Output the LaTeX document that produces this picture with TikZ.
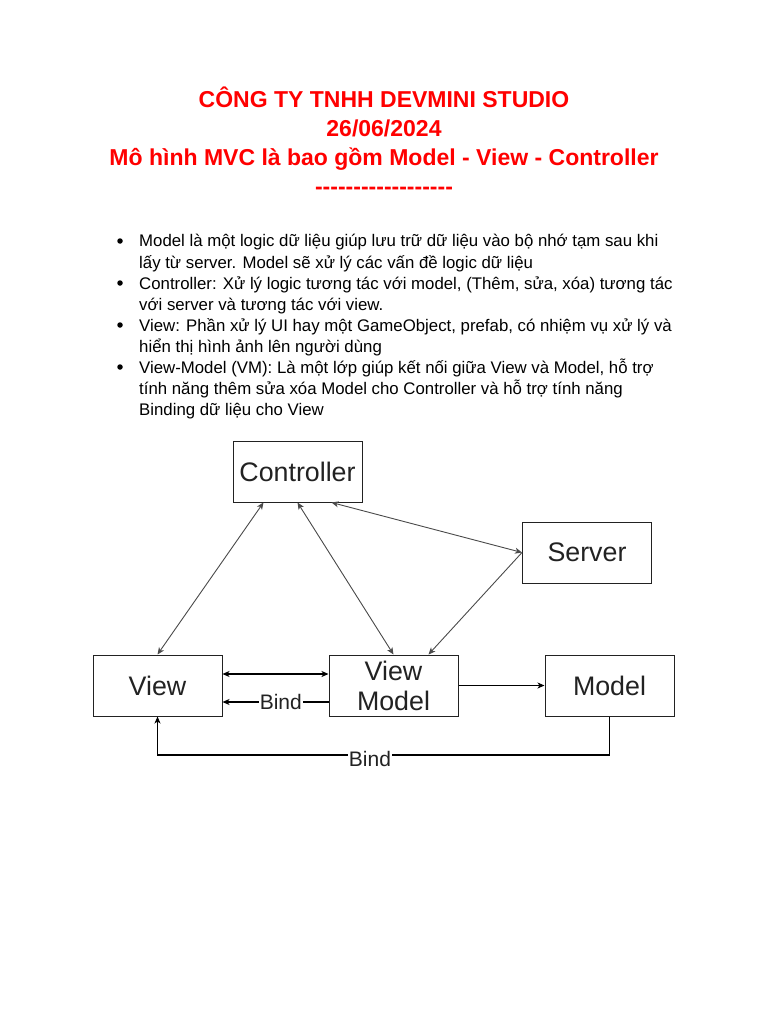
\documentclass[tikz,border=0pt]{standalone}
\usepackage{fontspec}
\setmainfont{Liberation Sans}
\usetikzlibrary{arrows.meta,calc}
\definecolor{titlered}{HTML}{FF0000}
\definecolor{arrgray}{HTML}{4A4A4A}
\definecolor{boxline}{HTML}{222222}
\begin{document}
\begin{tikzpicture}[x=1pt,y=-1pt,
  titletext/.style={anchor=base,font=\fontsize{23}{26}\selectfont\bfseries,text=titlered,inner sep=0pt},
  bodytext/.style={anchor=base west,font=\fontsize{16.8}{19}\selectfont,inner sep=0pt},
  bulletdot/.style={circle,fill=black,inner sep=0pt,minimum size=5.5pt},
  mvcbox/.style={draw=boxline,line width=1pt,minimum width=129pt,minimum height=61pt,inner sep=0pt,font=\fontsize{26.8}{30}\selectfont,align=center,text=boxline},
  ctlarrow/.style={draw=arrgray,line width=0.9pt,{Stealth[length=7pt,width=6pt,inset=2pt]}-{Stealth[length=7pt,width=6pt,inset=2pt]}},
  onearrow/.style={draw=arrgray,line width=0.9pt,-{Stealth[length=7pt,width=6pt,inset=2pt]}},
  blkarrow/.style={draw=black,line width=1.1pt,-{Stealth[length=7pt,width=6pt,inset=2pt]}},
  blkdarrow/.style={draw=black,line width=1.1pt,{Stealth[length=7pt,width=6pt,inset=2pt]}-{Stealth[length=7pt,width=6pt,inset=2pt]}},
  bindlabel/.style={fill=white,inner sep=1pt,font=\fontsize{21}{23}\selectfont,text=boxline}
]
\useasboundingbox (0,0) rectangle (768,1024);
\fill[white] (0,0) rectangle (768,1024);

% Title
\node[titletext] (t1) at (384,108) {CÔNG TY TNHH DEVMINI STUDIO};
\node[titletext] (t2) at (384,137) {26/06/2024};
\node[titletext] (t3) at (384,166) {Mô hình MVC là bao gồm Model - View - Controller};
\node[titletext] (t4) at (384,195) {{-}{-}{-}{-}{-}{-}{-}{-}{-}{-}{-}{-}{-}{-}{-}{-}{-}{-}};

% Bullets
\node[bulletdot] (b1) at (120,241) {};
\node[bulletdot] (b2) at (120,283) {};
\node[bulletdot] (b3) at (120,325) {};
\node[bulletdot] (b4) at (120,367) {};
\node[bodytext] (l1) at (139,247) {Model là một logic dữ liệu giúp lưu trữ dữ liệu vào bộ nhớ tạm sau khi};
\node[bodytext] (l2) at (139,268) {lấy từ server. Model sẽ xử lý các vấn đề logic dữ liệu};
\node[bodytext] (l3) at (139,289) {Controller: Xử lý logic tương tác với model, (Thêm, sửa, xóa) tương tác};
\node[bodytext] (l4) at (139,310) {với server và tương tác với view.};
\node[bodytext] (l5) at (139,331) {View: Phần xử lý UI hay một GameObject, prefab, có nhiệm vụ xử lý và};
\node[bodytext] (l6) at (139,352) {hiển thị hình ảnh lên người dùng};
\node[bodytext] (l7) at (139,373) {View-Model (VM): Là một lớp giúp kết nối giữa View và Model, hỗ trợ};
\node[bodytext] (l8) at (139,394) {tính năng thêm sửa xóa Model cho Controller và hỗ trợ tính năng};
\node[bodytext] (l9) at (139,415) {Binding dữ liệu cho View};

% Diagram boxes
\node[mvcbox] (ctrl) at (297.5,471.5) {Controller};
\node[mvcbox] (server) at (587,552.5) {Server};
\node[mvcbox] (view) at (157.5,685.5) {View};
\node[mvcbox] (vm) at (393.5,685.5) {View\\Model};
\node[mvcbox] (model) at (609.5,685.5) {Model};

% Connectors
\draw[ctlarrow] ($(ctrl.south west)+(31,0)$) -- (view.north);
\draw[ctlarrow] ($(ctrl.south west)+(65,0)$) -- (vm.north);
\draw[ctlarrow] ($(ctrl.south west)+(99,0)$) -- (server.west);
\draw[onearrow] (server.west) -- ($(vm.north)+(35,0)$);
\draw[blkdarrow] ($(view.east)+(0,-11.5)$) -- ($(vm.west)+(0,-11.5)$);
\draw[blkarrow] ($(vm.west)+(0,16.5)$) -- node[bindlabel,pos=0.45] (bind1) {Bind} ($(view.east)+(0,16.5)$);
\draw[blkarrow] (vm.east) -- (model.west);
\coordinate (mcorner) at (model.south |- 0,755);
\coordinate (vcorner) at (view.south |- 0,755);
\draw[blkarrow] (model.south) -- (mcorner) -- node[bindlabel,pos=0.53,yshift=-4pt] (bind2) {Bind} (vcorner) -- (view.south);
\end{tikzpicture}
\end{document}
